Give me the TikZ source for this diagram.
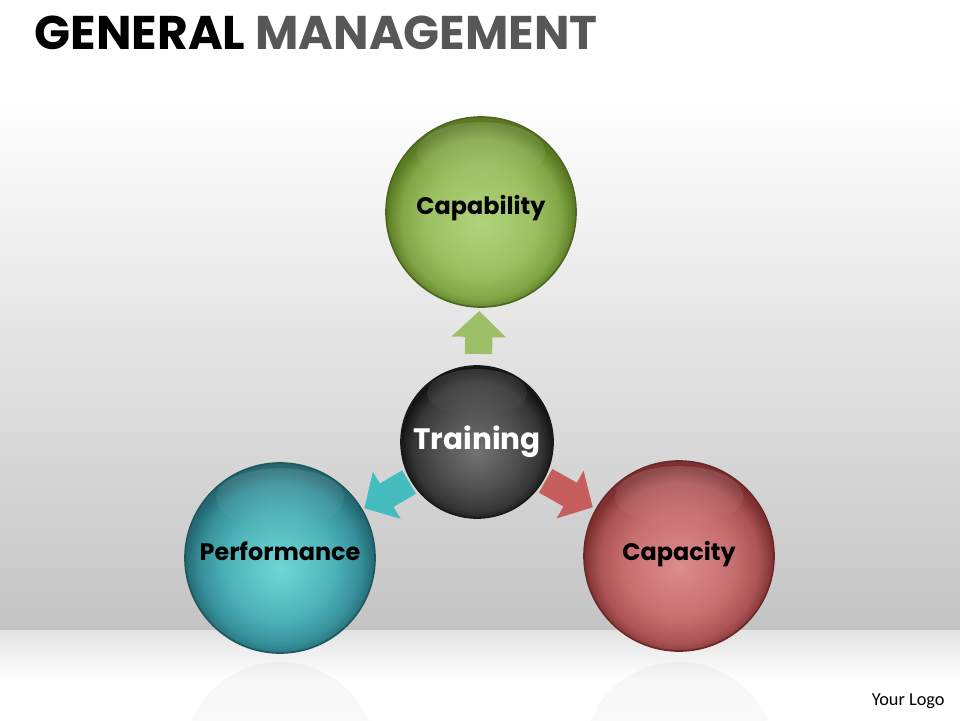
\documentclass[tikz,border=0pt]{standalone}
\usepackage{fontspec}
\setsansfont{Poppins}
\newfontfamily\logofont{Carlito}
\usetikzlibrary{arrows.meta,fadings}
\definecolor{titlegray}{HTML}{575757}
\definecolor{wallgray}{HTML}{C4C4C4}
\definecolor{floorgray}{HTML}{E2E2E2}
\definecolor{greenarrow}{HTML}{9CBF68}
\definecolor{tealarrow}{HTML}{45BDBF}
\definecolor{redarrow}{HTML}{C65E5E}
\definecolor{greenin}{HTML}{B2D37C}\definecolor{greenmid}{HTML}{9DC063}
\definecolor{greenedge}{HTML}{82A646}\definecolor{greenrim}{HTML}{5A7A22}
\definecolor{tealin}{HTML}{70D6D4}\definecolor{tealmid}{HTML}{4DB3B8}
\definecolor{tealedge}{HTML}{36909A}\definecolor{tealrim}{HTML}{236872}
\definecolor{redin}{HTML}{DC8C8C}\definecolor{redmid}{HTML}{C86F70}
\definecolor{rededge}{HTML}{AC5455}\definecolor{redrim}{HTML}{7E2F30}
\definecolor{darkin}{HTML}{737373}\definecolor{darkmid}{HTML}{4E4E4E}
\definecolor{darkedge}{HTML}{363636}\definecolor{darkrim}{HTML}{151515}
% sphere shadings: bright core, darker rim
\newcommand{\sphereshading}[1]{%
  \pgfdeclareradialshading{#1ball}{\pgfpoint{0bp}{-3bp}}{%
    color(0bp)=(#1in); color(14bp)=(#1mid); color(21bp)=(#1edge);
    color(25bp)=(#1rim); color(50bp)=(#1rim)}}
\sphereshading{green}
\sphereshading{teal}
\sphereshading{red}
\sphereshading{dark}
\newcommand{\lift}[2][-0.06cm]{\raisebox{#1}[0pt][0pt]{#2}}

\begin{document}
\begin{tikzpicture}[
  font=\sffamily\bfseries,
  ball/.style={circle, minimum size=4.75cm, inner sep=0pt,
    font=\sffamily\bfseries\fontsize{17}{20}\selectfont,
    shading=#1ball, draw=#1rim!85!black, line width=1.2pt},
  hub/.style={circle, minimum size=3.8cm, inner sep=0pt, text=white,
    font=\sffamily\bfseries\fontsize{21}{25}\selectfont,
    draw=black!90, line width=1.2pt, shading=darkball},
  flow/.style={draw=#1, line width=0.68cm,
    -{Triangle[length=0.65cm, width=1.33cm, fill=#1]}},
  gloss/.style={fill=white, opacity=.14, path fading=south},
  mirror/.style={fill=black!25, opacity=.12, path fading=south}
]
\useasboundingbox (0,0) rectangle (24,18);
% wall and floor
\fill[white] (0,0) rectangle (24,18);
\shade[top color=white, bottom color=wallgray] (0,2.25) rectangle (24,15.6);
\shade[top color=floorgray, bottom color=white] (0,1.0) rectangle (24,2.25);

% title and logo
\node[anchor=base west, inner sep=0pt, font=\sffamily\bfseries\fontsize{33.6}{38}\selectfont]
  (title) at (0.86,16.75) {GENERAL \textcolor{titlegray}{MANAGEMENT}};
\node[anchor=base east, inner sep=0pt, font=\logofont\fontsize{13}{15}\selectfont]
  (logo) at (23.62,0.37) {Your Logo};

% spheres
\node[hub] (tr) at (11.925,6.95) {\lift[-0.18cm]{Training}};
\node[ball=green] (cap) at (12.025,12.7) {\lift{Capability}};
\node[ball=teal] (perf) at (7.0,4.05) {\lift{Performance}};
\node[ball=red] (capa) at (16.975,4.1) {\lift[-0.12cm]{Capacity}};

% highlights and reflections
\foreach \b in {cap,perf,capa}
  \fill[gloss] ([yshift=-0.9cm]\b.north) ellipse [x radius=1.6cm, y radius=0.75cm];
\fill[gloss] ([yshift=-0.7cm]tr.north) ellipse [x radius=1.25cm, y radius=0.6cm];
\begin{scope}
  \clip (0,0) rectangle (24,2.25);
  \fill[mirror] (7.0,-0.95) circle [radius=2.4cm];
  \fill[mirror] (16.975,-0.95) circle [radius=2.4cm];
\end{scope}

% arrows
\draw[flow=greenarrow, shorten <=0.28cm, shorten >=0.08cm] (tr) -- (cap);
\draw[flow=tealarrow, shorten <=0.05cm, shorten >=0.05cm] (tr) -- (perf);
\draw[flow=redarrow, shorten <=0.05cm, shorten >=0.08cm] (tr) -- (capa);
\end{tikzpicture}
\end{document}
